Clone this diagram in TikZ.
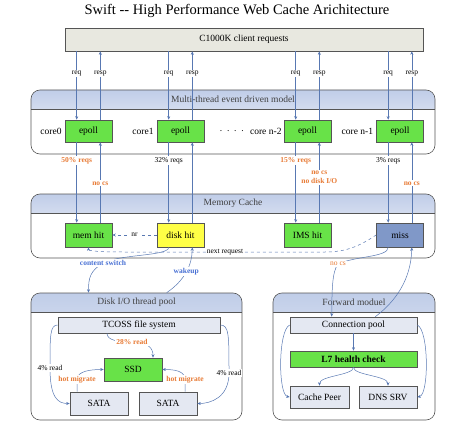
\documentclass[tikz,border=0pt]{standalone}
\usepackage{fontspec}
\setmainfont{Liberation Serif}
\usetikzlibrary{arrows.meta, calc, positioning}

\definecolor{flowblue}{RGB}{88,120,178}
\definecolor{hotorange}{RGB}{232,122,52}
\definecolor{noteblue}{RGB}{72,112,212}
\definecolor{boxgreen}{RGB}{104,226,72}
\definecolor{boxyellow}{RGB}{255,255,70}
\definecolor{missblue}{RGB}{128,152,200}
\definecolor{paleblue}{RGB}{228,232,242}
\definecolor{clientgray}{RGB}{232,232,224}
\definecolor{hdrblue}{RGB}{192,205,232}
\definecolor{edgegray}{RGB}{85,85,85}

\tikzset{
  unit/.style={draw=edgegray, line width=0.6pt, minimum width=47pt, minimum height=23pt,
    inner sep=0pt, font=\fontsize{9.5}{11}\selectfont},
  group/.style={draw=edgegray, line width=0.6pt, rounded corners=9pt, inner sep=0pt,
    path picture={
      \shade[sharp corners, draw=none, top color=hdrblue, bottom color=white]
        (path picture bounding box.north west) rectangle ([yshift=-19pt]path picture bounding box.north east);
      \draw[sharp corners, edgegray, line width=0.6pt]
        ([yshift=-19pt]path picture bounding box.north west) -- ([yshift=-19pt]path picture bounding box.north east);}},
  hdr/.style={font=\fontsize{9.5}{11}\selectfont, text=black!75},
  corelbl/.style={font=\fontsize{9.5}{11}\selectfont, inner sep=0pt},
  flow/.style={draw=flowblue, line width=0.5pt, -{Stealth[length=3.5pt, width=3pt]}},
  tag/.style={fill=white, inner sep=1pt, font=\fontsize{7.5}{9}\selectfont},
  hot/.style={text=hotorange, font=\fontsize{7.5}{9}\selectfont\bfseries},
  note/.style={text=noteblue, font=\fontsize{7.5}{9}\selectfont\bfseries},
}

\begin{document}
\begin{tikzpicture}[x=1pt, y=-1pt]
    \useasboundingbox (0,0) rectangle (474,425);

    % Title
    \node[font=\fontsize{14.5}{16}\selectfont] (title) at (237,11) {Swift {-}{-} High Performance Web Cache Arichitecture};

    % Client requests
    \node[unit, fill=clientgray, minimum width=358pt] (clients) at (244,39.5) {C1000K client requests};

    % Multi-thread event driven model
    \node[group, minimum width=404pt, minimum height=64pt] (mtm) at (233,122) {};
    \node[hdr] (mtmtitle) at ([yshift=-9.5pt]mtm.north) {Multi-thread event driven model};
    \node[unit, fill=boxgreen, minimum height=22pt] (epoll0) at (88.5,131) {epoll};
    \node[unit, fill=boxgreen, minimum height=22pt] (epoll1) at (180.5,131) {epoll};
    \node[unit, fill=boxgreen, minimum height=22pt] (epoll2) at (307.5,131) {epoll};
    \node[unit, fill=boxgreen, minimum height=22pt] (epoll3) at (400,131) {epoll};
    \node[corelbl, left=3pt of epoll0] (core0) {core0};
    \node[corelbl, left=3pt of epoll1] (core1) {core1};
    \node[corelbl, left=2pt of epoll2] (coren2) {core n-2};
    \node[corelbl, left=6pt of coren2] (dots) {.\ \ .\ \ .\ \ .};
    \node[corelbl, left=3pt of epoll3] (coren1) {core n-1};

    % Memory cache
    \node[group, minimum width=404pt, minimum height=64pt] (memcache) at (233,226) {};
    \node[hdr] (memtitle) at ([yshift=-9.5pt]memcache.north) {Memory Cache};
    \node[unit, fill=boxgreen, minimum height=24pt] (memhit) at (88.5,235) {mem hit};
    \node[unit, fill=boxyellow, minimum height=24pt] (diskhit) at (180.5,235) {disk hit};
    \node[unit, fill=boxgreen, minimum height=24pt] (imshit) at (307.5,235) {IMS hit};
    \node[unit, fill=missblue, minimum height=24pt] (miss) at (400,235) {miss};

    % Disk I/O thread pool
    \node[group, minimum width=211pt, minimum height=127pt] (diskpool) at (136.5,356.5) {};
    \node[hdr] (disktitle) at ([yshift=-9.5pt]diskpool.north) {Disk I/O thread pool};
    \node[unit, fill=paleblue, minimum width=162pt, minimum height=16pt] (tcoss) at (139,325) {TCOSS file system};
    \node[unit, fill=boxgreen, minimum width=58pt] (ssd) at (133,369.5) {SSD};
    \node[unit, fill=paleblue, minimum width=58pt] (sataA) at (99,403.5) {SATA};
    \node[unit, fill=paleblue, minimum width=58pt] (sataB) at (168,403.5) {SATA};

    % Forward module
    \node[group, minimum width=162pt, minimum height=127pt] (fwd) at (354,356.5) {};
    \node[hdr] (fwdtitle) at ([yshift=-9.5pt]fwd.north) {Forward moduel};
    \node[unit, fill=paleblue, minimum width=127pt, minimum height=16pt] (connpool) at (353.5,325) {Connection pool};
    \node[unit, fill=boxgreen, minimum width=127pt, minimum height=16pt, font=\fontsize{9.5}{11}\selectfont\bfseries] (lseven) at (353.5,359) {L7 health check};
    \node[unit, fill=paleblue, minimum width=59pt, minimum height=22pt] (cachepeer) at (319.5,397) {Cache Peer};
    \node[unit, fill=paleblue, minimum width=58pt, minimum height=22pt] (dnssrv) at (388,397) {DNS SRV};

    % req / resp between clients and epoll
    \foreach \i in {0,...,3}{
      \coordinate (rq\i) at ([xshift=12pt]epoll\i.north west);
      \coordinate (rs\i) at ([xshift=-12pt]epoll\i.north east);
      \draw[flow] (rq\i |- clients.south) -- node[tag, pos=0.33] {req} (rq\i);
      \draw[flow] (rs\i |- epoll\i.north) -- node[tag, pos=0.67] {resp} (rs\i |- clients.south);
    }

    % epoll <-> memory cache
    \draw[flow] (rq0 |- epoll0.south) -- node[tag, hot, pos=0.23] {50\% reqs} (rq0 |- memhit.north);
    \draw[flow] (rs0 |- memhit.north) -- node[tag, hot, pos=0.49] {no cs} (rs0 |- epoll0.south);
    \draw[flow] (rq1 |- epoll1.south) -- node[tag, pos=0.23] {32\% reqs} (rq1 |- diskhit.north);
    \draw[flow] (rs1 |- diskhit.north) -- (rs1 |- epoll1.south);
    \draw[flow] (rq2 |- epoll2.south) -- node[tag, hot, pos=0.23] {15\% reqs} (rq2 |- imshit.north);
    \draw[flow] (rs2 |- imshit.north) -- node[tag, hot, align=center, pos=0.56] {no cs\\no disk I/O} (rs2 |- epoll2.south);
    \draw[flow] (rq3 |- epoll3.south) -- node[tag, pos=0.23] {3\% reqs} (rq3 |- miss.north);
    \draw[flow] (rs3 |- miss.north) -- node[tag, hot, pos=0.49] {no cs} (rs3 |- epoll3.south);

    % inside memory cache
    \draw[flow, dashed] (diskhit) -- node[tag] {nr} (memhit);
    \draw[flow, dashed] (miss.west) .. controls +(-18,12) and (345,252) .. (325,252)
        -- node[tag] {next request} (125,252) .. controls (100,252) and (88.5,251) .. (memhit.south);

    % memory cache <-> disk pool
    \draw[flow] (rq1 |- diskhit.south) .. controls +(0,9) and (120,254) .. (103,263) node[tag, note] {content switch}
        .. controls (90,271) and (88.5,278) .. (memhit.south |- diskpool.north);
    \coordinate (wake) at ([xshift=136pt]diskpool.north west);
    \draw[flow] (wake) .. controls (185,280) and (192,265) .. node[tag, note] {wakeup} (rs1 |- diskhit.south);

    % memory cache <-> forward module
    \coordinate (fwdin) at ([xshift=42pt]connpool.north west);
    \coordinate (fwdout) at ([xshift=-42pt]connpool.north east);
    \draw[flow] (rq3 |- miss.south) .. controls +(0,10) and (355,256) .. (338,264) node[tag, text=hotorange] {no cs}
        .. controls (332,272) and (332,290) .. (fwdin);
    \draw[flow] (fwdout) .. controls (395,302) and (411,280) .. (rs3 |- miss.south);

    % inside disk pool
    \draw[flow] ([xshift=-32pt]tcoss.south) .. controls +(0,7) and (118,342) .. (132,342) node[tag, hot] {28\% read}
        .. controls (148,342) and (153,348) .. ([xshift=20pt]ssd.north);
    \draw[flow] (tcoss.west) .. controls (50,325) and (50,335) .. (50,368) node[tag] {4\% read}
        .. controls (50,398) and (58,403.5) .. (sataA.west);
    \draw[flow] (tcoss.east) .. controls (229,325) and (229,335) .. (229,373) node[tag] {4\% read}
        .. controls (229,398) and (210,403.5) .. (sataB.east);
    \draw[flow] ([xshift=-22pt]sataA.north) -- ++(0,-12) node[tag, hot] {hot migrate}
        .. controls +(0,-9) and +(-12,0) .. (ssd.west);
    \draw[flow] ([xshift=17pt]sataB.north) -- ++(0,-12) node[tag, hot] {hot migrate}
        .. controls +(0,-9) and +(12,0) .. (ssd.east);

    % inside forward module
    \draw[flow] (connpool) -- (lseven);
    \draw[flow] (lseven.south) .. controls +(0,8) and +(0,-10) .. (cachepeer.north);
    \draw[flow] (lseven.south) .. controls +(0,8) and +(0,-10) .. (dnssrv.north);
    \draw[flow] (connpool.west) .. controls (278,330) and (278,395) .. (cachepeer.west);
    \draw[flow] (connpool.east) .. controls (429,330) and (429,395) .. (dnssrv.east);

\end{tikzpicture}
\end{document}
